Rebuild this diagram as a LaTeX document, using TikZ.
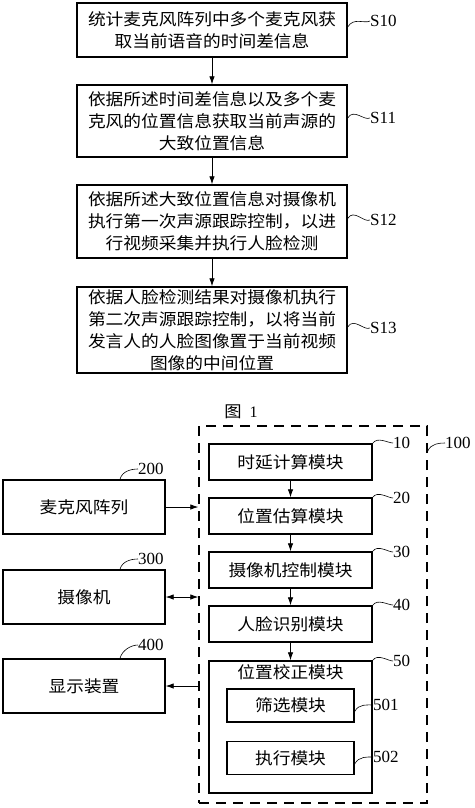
\documentclass[tikz,border=0pt]{standalone}
\usepackage{fontspec}
\setmainfont{Liberation Serif}
\newfontfamily\cjk[FakeStretch=1.08]{Noto Sans CJK SC}
\usepackage{tikz}
\usetikzlibrary{arrows.meta}

\begin{document}
\begin{tikzpicture}[x=1pt,y=-1pt,>={Latex[length=8pt,width=5.5pt]},
   stepbox/.style={draw,line width=1.4pt,align=center,inner sep=0pt,minimum width=270pt,font=\cjk\fontsize{16.4}{22}\selectfont},
   modbox/.style={draw,line width=1.4pt,inner sep=0pt,minimum width=163pt,minimum height=36pt,font=\cjk\fontsize{16.4}{20}\selectfont},
   tag/.style={anchor=west,inner sep=0pt,font=\fontsize{17}{17}\selectfont},
   lead/.style={line width=0.6pt},
   link/.style={line width=0.8pt,->}]
   \useasboundingbox (0,0) rectangle (474,808);

   % Steps
   \node[stepbox,minimum height=54pt] (s10) at (212,30) {统计麦克风阵列中多个麦克风获\\取当前语音的时间差信息};
   \node[stepbox,minimum height=72pt] (s11) at (212,121) {依据所述时间差信息以及多个麦\\克风的位置信息获取当前声源的\\大致位置信息};
   \node[stepbox,minimum height=73pt] (s12) at (212,221.5) {依据所述大致位置信息对摄像机\\执行第一次声源跟踪控制，以进\\行视频采集并执行人脸检测};
   \node[stepbox,minimum height=86pt] (s13) at (212,330) {依据人脸检测结果对摄像机执行\\第二次声源跟踪控制，以将当前\\发言人的人脸图像置于当前视频\\图像的中间位置};
   \draw[link] (s10) -- (s11);
   \draw[link] (s11) -- (s12);
   \draw[link] (s12) -- (s13);

   % Step tags
   \node[tag] (ts10) at (370,21) {S10};
   \node[tag] (ts11) at (370,118) {S11};
   \node[tag] (ts12) at (370,220) {S12};
   \node[tag] (ts13) at (370,328) {S13};
   \draw[lead] ([yshift=3pt]s10.east) .. controls +(6,-10) and +(-6,3) .. (ts10.west);
   \draw[lead] ([yshift=3pt]s11.east) .. controls +(6,-10) and +(-6,3) .. (ts11.west);
   \draw[lead] ([yshift=3pt]s12.east) .. controls +(6,-10) and +(-6,3) .. (ts12.west);
   \draw[lead] ([yshift=3pt]s13.east) .. controls +(6,-10) and +(-6,3) .. (ts13.west);

   \node[font=\fontsize{16}{16}\selectfont] (cap) at (241,412) {{\cjk 图}\ \ 1};

   % System 100
   \node[draw,line width=1.4pt,dash pattern=on 10pt off 7pt,inner sep=0pt,minimum width=228pt,minimum height=377pt] (sys) at (313,614.5) {};
   \node[modbox] (m10) at (290.5,462) {时延计算模块};
   \node[modbox] (m20) at (290.5,516) {位置估算模块};
   \node[modbox] (m30) at (290.5,570) {摄像机控制模块};
   \node[modbox] (m40) at (290.5,624) {人脸识别模块};
   \node[modbox,minimum height=132pt] (m50) at (290.5,727) {};
   \node[font=\cjk\fontsize{16.4}{20}\selectfont] (m50t) at (290.5,672) {位置校正模块};
   \node[modbox,minimum width=127pt,minimum height=33pt] (m501) at (290.5,705.5) {筛选模块};
   \node[modbox,minimum width=127pt,minimum height=33pt] (m502) at (290.5,758) {执行模块};
   \draw[link] (m10) -- (m20);
   \draw[link] (m20) -- (m30);
   \draw[link] (m30) -- (m40);
   \draw[link] (m40) -- (m50);

   % Outside devices
   \node[modbox,minimum width=162pt,minimum height=54pt] (mic) at (84,507) {麦克风阵列};
   \node[modbox,minimum width=162pt,minimum height=54pt] (cam) at (84,597) {摄像机};
   \node[modbox,minimum width=162pt,minimum height=54pt] (disp) at (84,686) {显示装置};
   \draw[link] (mic.east) -- (mic.east -| sys.west);
   \draw[link,<->] (cam.east) -- (cam.east -| sys.west);
   \draw[link] (disp.east -| sys.west) -- (disp.east);

   % Tags
   \node[tag] (t100) at (445,443) {100};
   \node[tag] (t10) at (393,443) {10};
   \node[tag] (t20) at (393,498) {20};
   \node[tag] (t30) at (393,552) {30};
   \node[tag] (t40) at (393,605) {40};
   \node[tag] (t50) at (393,661) {50};
   \node[tag] (t501) at (373,705) {501};
   \node[tag] (t502) at (373,757) {502};
   \node[tag] (t200) at (138,469) {200};
   \node[tag] (t300) at (138,559) {300};
   \node[tag] (t400) at (138,645) {400};
   \draw[lead] ([yshift=-26pt]sys.north east) .. controls +(3,-8) and +(-5,0) .. (t100.west);
   \draw[lead] (m10.north east) .. controls +(5,-7) and +(-5,0) .. (t10.west);
   \draw[lead] (m20.north east) .. controls +(5,-7) and +(-5,0) .. (t20.west);
   \draw[lead] (m30.north east) .. controls +(5,-7) and +(-5,0) .. (t30.west);
   \draw[lead] (m40.north east) .. controls +(5,-7) and +(-5,0) .. (t40.west);
   \draw[lead] (m50.north east) .. controls +(5,-7) and +(-5,0) .. (t50.west);
   \draw[lead] ([yshift=-6pt]m501.east) .. controls +(4,-8) and +(-5,0) .. (t501.west);
   \draw[lead] ([yshift=-6pt]m502.east) .. controls +(4,-8) and +(-5,0) .. (t502.west);
   \draw[lead] ([xshift=36pt]mic.north) .. controls +(2,-8) and +(-7,0) .. (t200.west);
   \draw[lead] ([xshift=36pt]cam.north) .. controls +(2,-8) and +(-7,0) .. (t300.west);
   \draw[lead] ([xshift=36pt]disp.north) .. controls +(2,-8) and +(-7,0) .. (t400.west);
\end{tikzpicture}
\end{document}
